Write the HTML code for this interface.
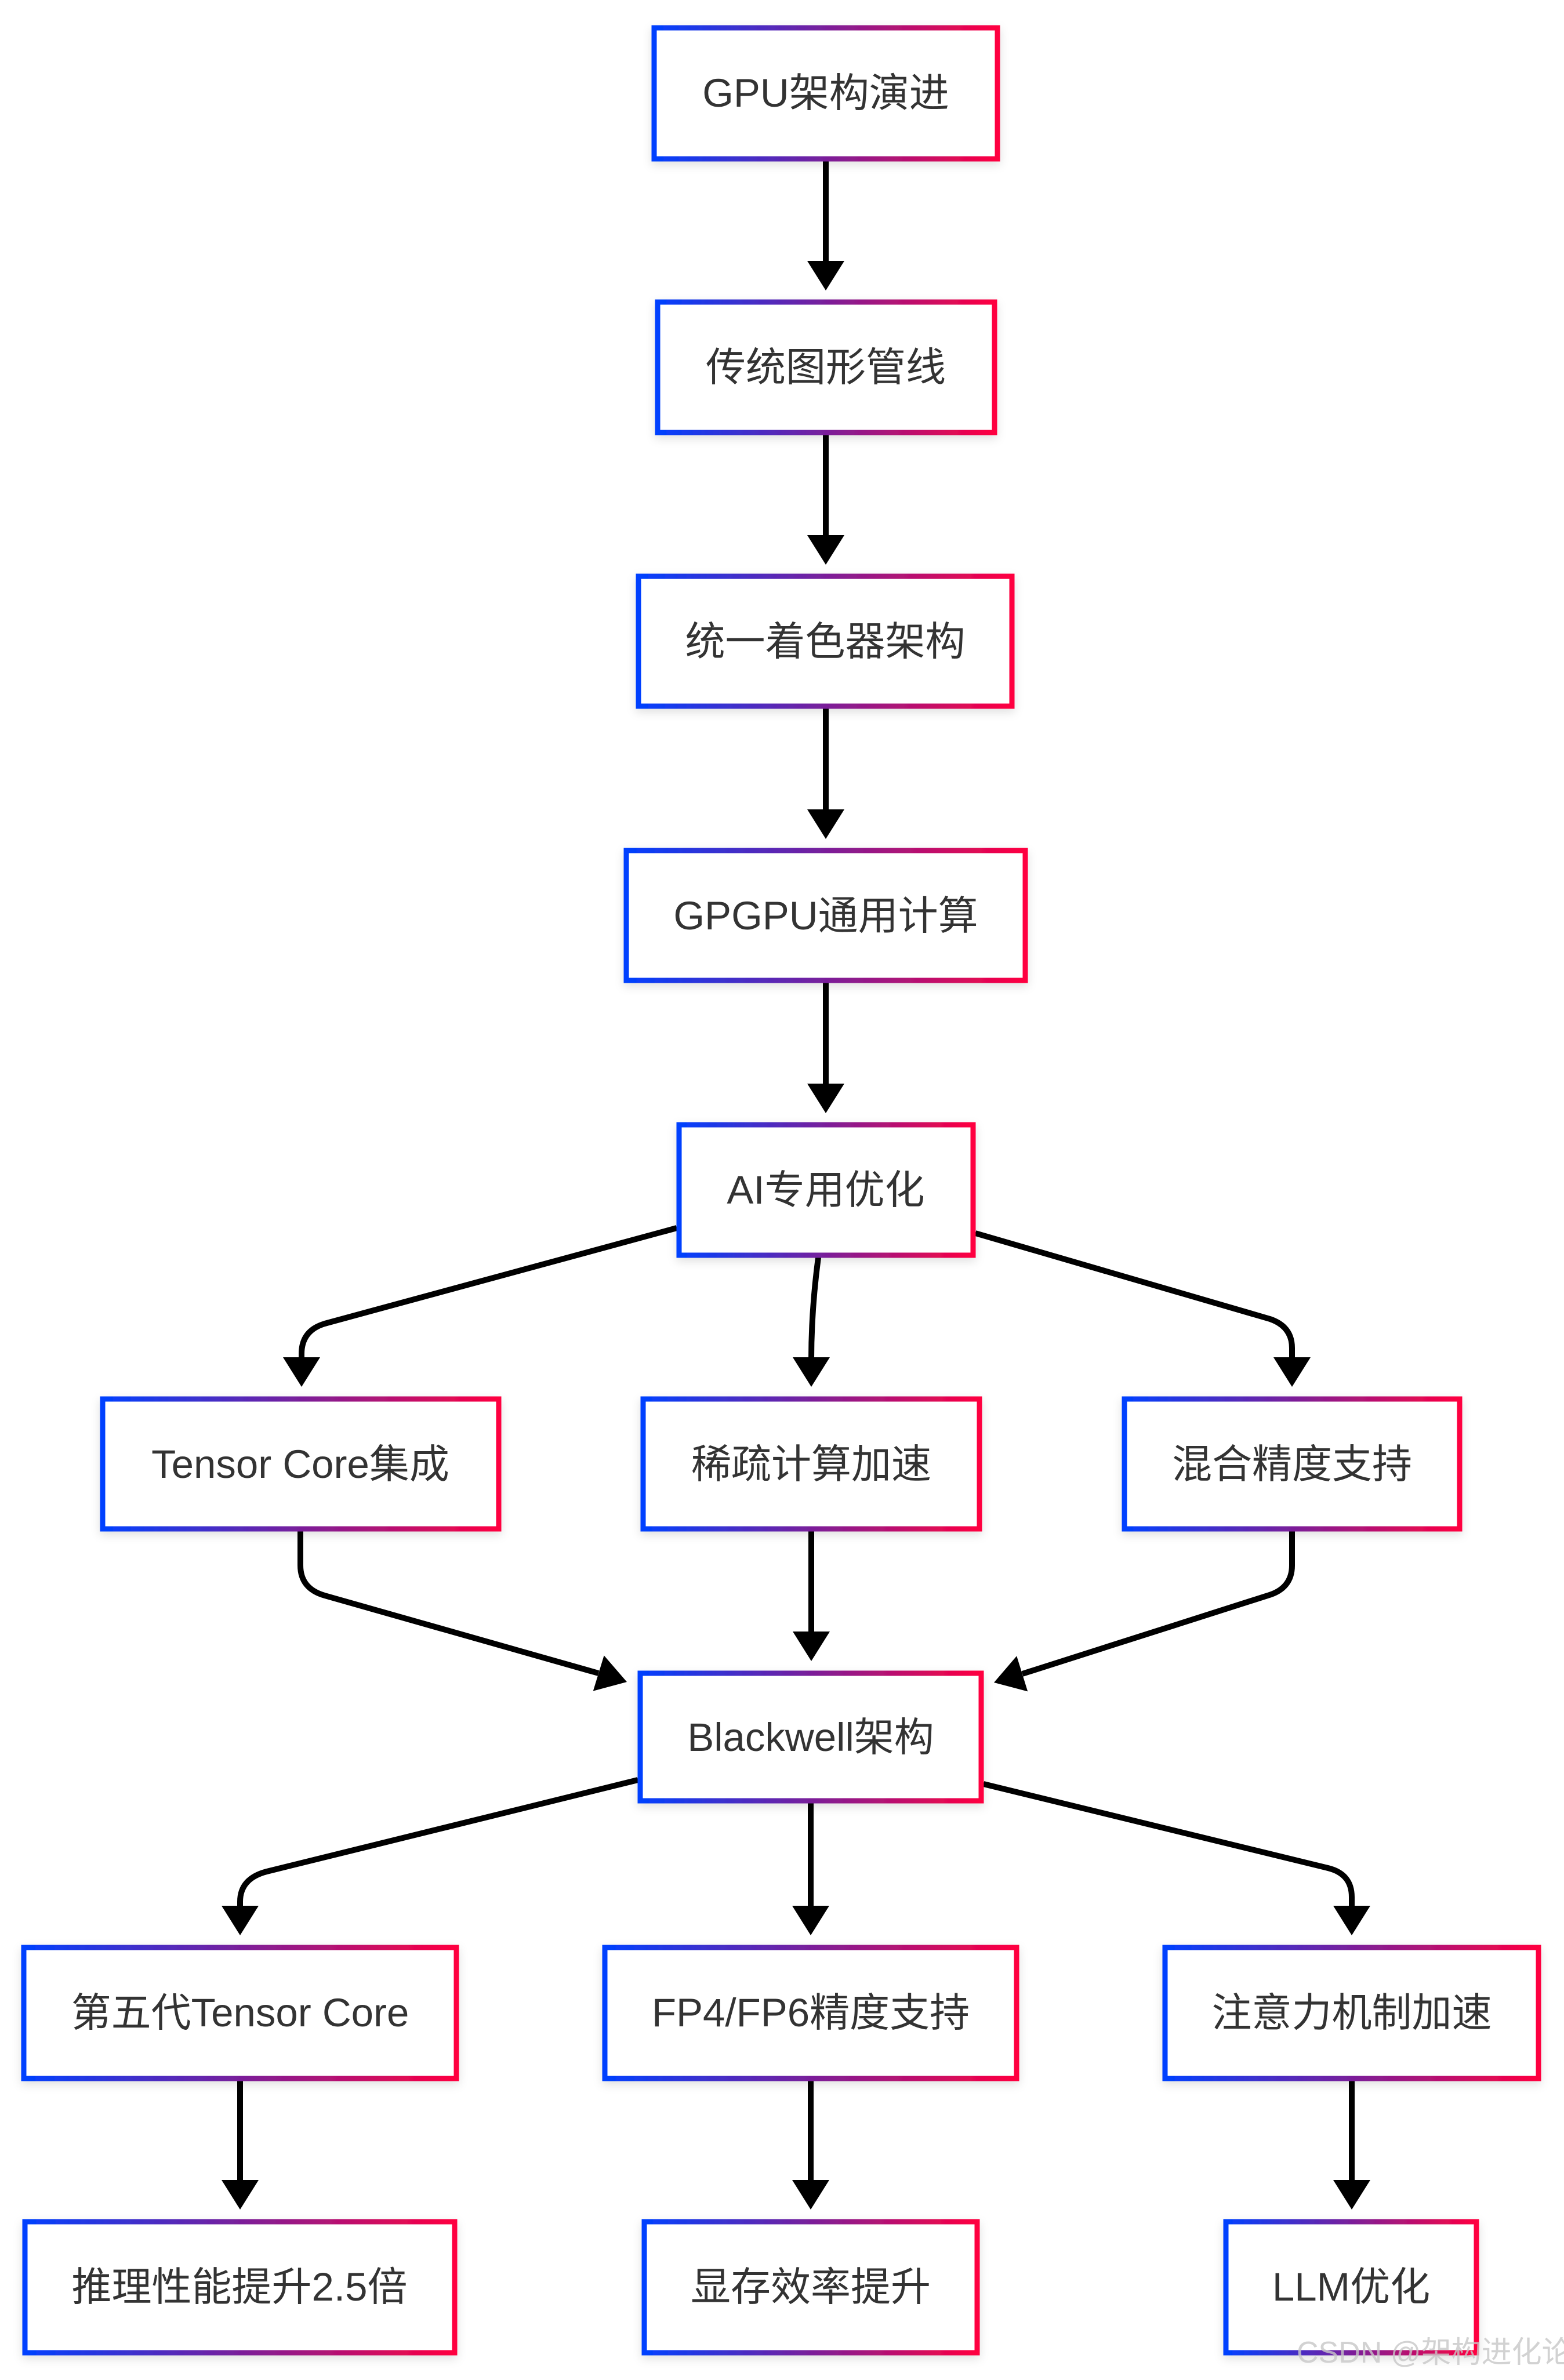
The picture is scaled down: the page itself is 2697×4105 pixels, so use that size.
<!DOCTYPE html>
<html><head><meta charset="utf-8"><style>
html,body{margin:0;padding:0;background:#fff;}
svg{display:block;}
text{font-family:"Liberation Sans","Noto Sans CJK SC",sans-serif;font-size:69px;fill:#333;}
</style></head><body>
<svg width="2697" height="4105" viewBox="0 0 2697 4105" xmlns="http://www.w3.org/2000/svg">
<defs>
<linearGradient id="g" x1="0" y1="0" x2="1" y2="0">
<stop offset="0" stop-color="#0040ff"/><stop offset="0.5" stop-color="#7a1f9a"/><stop offset="1" stop-color="#ff0040"/>
</linearGradient>
<filter id="sh" x="-10%" y="-10%" width="120%" height="130%">
<feDropShadow dx="0" dy="6" stdDeviation="8" flood-color="#000" flood-opacity="0.12"/>
</filter>
</defs>
<g fill="none" stroke="#000" stroke-width="10" stroke-linejoin="round">
<line x1="1424" y1="278" x2="1424" y2="455"/>
<line x1="1424" y1="750" x2="1424" y2="928"/>
<line x1="1424" y1="1222" x2="1424" y2="1401"/>
<line x1="1424" y1="1695" x2="1424" y2="1874"/>
<path d="M1167,2118 L560,2283 Q520,2295 520,2335 L520,2345"/>
<path d="M1411,2169 Q1399,2260 1399,2345"/>
<path d="M1682,2127 L2190,2275 Q2228,2288 2228,2325 L2228,2345"/>
<path d="M518,2641 L518,2700 Q518,2740 560,2752 L1032,2886"/>
<line x1="1399" y1="2641" x2="1399" y2="2818"/>
<path d="M2228,2641 L2228,2700 Q2228,2740 2186,2752 L1763,2887"/>
<path d="M1100,3070 L460,3228 Q414,3240 414,3280 L414,3290"/>
<line x1="1398" y1="3110" x2="1398" y2="3290"/>
<path d="M1696,3077 L2290,3222 Q2331,3232 2331,3272 L2331,3290"/>
<line x1="414" y1="3589" x2="414" y2="3763"/>
<line x1="1398" y1="3589" x2="1398" y2="3763"/>
<line x1="2331" y1="3589" x2="2331" y2="3763"/>
</g>
<g fill="#000">
<polygon points="1392,450 1456,450 1424,501"/>
<polygon points="1392,923 1456,923 1424,974"/>
<polygon points="1392,1396 1456,1396 1424,1447"/>
<polygon points="1392,1869 1456,1869 1424,1920"/>
<polygon points="488,2341 552,2341 520,2392"/>
<polygon points="1367,2341 1431,2341 1399,2392"/>
<polygon points="2196,2341 2260,2341 2228,2392"/>
<polygon points="1041.6,2855.4 1022.8,2916.6 1081,2901"/>
<polygon points="1367,2814 1431,2814 1399,2865"/>
<polygon points="1772.2,2917.4 1753.2,2856.2 1714,2902"/>
<polygon points="382,3287 446,3287 414,3338"/>
<polygon points="1366,3287 1430,3287 1398,3338"/>
<polygon points="2299,3287 2363,3287 2331,3338"/>
<polygon points="382,3760 446,3760 414,3811"/>
<polygon points="1366,3760 1430,3760 1398,3811"/>
<polygon points="2299,3760 2363,3760 2331,3811"/>
</g>
<g fill="#fff" stroke="url(#g)" stroke-width="9" filter="url(#sh)">
<rect x="1128" y="48" width="592" height="226"/>
<rect x="1134" y="521" width="581" height="225"/>
<rect x="1101" y="994" width="644" height="224"/>
<rect x="1080" y="1467" width="688" height="224"/>
<rect x="1171" y="1940" width="507" height="225"/>
<rect x="177" y="2413" width="683" height="224"/>
<rect x="1109" y="2413" width="580" height="224"/>
<rect x="1939" y="2413" width="578" height="224"/>
<rect x="1104" y="2886" width="588" height="220"/>
<rect x="41" y="3359" width="746" height="226"/>
<rect x="1043" y="3359" width="710" height="226"/>
<rect x="2009" y="3359" width="644" height="226"/>
<rect x="43" y="3832" width="741" height="226"/>
<rect x="1111" y="3832" width="574" height="226"/>
<rect x="2114" y="3832" width="432" height="226"/>
</g>
<g text-anchor="middle">
<text x="1424" y="184">GPU架构演进</text>
<text x="1424" y="657">传统图形管线</text>
<text x="1423" y="1130">统一着色器架构</text>
<text x="1424" y="1603">GPGPU通用计算</text>
<text x="1424" y="2076">AI专用优化</text>
<text x="518" y="2549">Tensor Core集成</text>
<text x="1399" y="2549">稀疏计算加速</text>
<text x="2228" y="2549">混合精度支持</text>
<text x="1398" y="3020">Blackwell架构</text>
<text x="414" y="3495">第五代Tensor Core</text>
<text x="1398" y="3495">FP4/FP6精度支持</text>
<text x="2331" y="3495">注意力机制加速</text>
<text x="413" y="3968">推理性能提升2.5倍</text>
<text x="1398" y="3968">显存效率提升</text>
<text x="2330" y="3968">LLM优化</text>
</g>
<text x="2236" y="4075" style="font-size:52px;fill:#c8c8c8;opacity:0.8">CSDN @架构进化论</text>
</svg>
</body></html>
